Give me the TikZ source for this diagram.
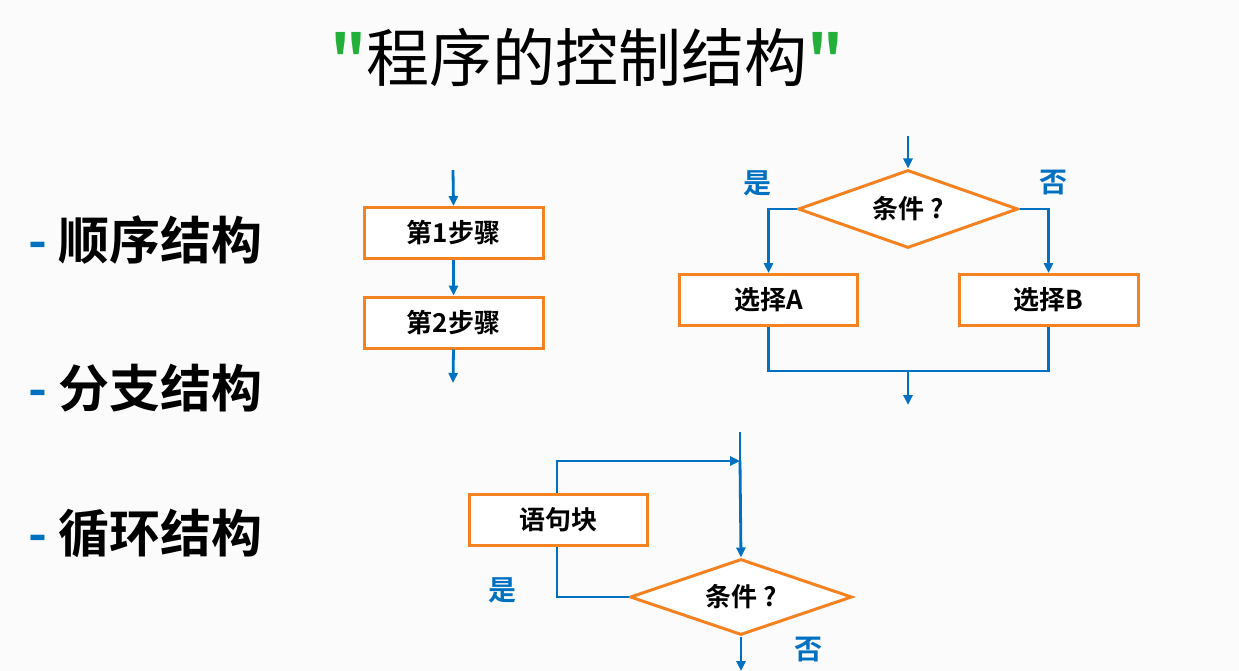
\documentclass[tikz,border=0pt]{standalone}
\usepackage{fontspec}
\setmainfont{Noto Sans CJK SC}
\newfontfamily\cjkb{Noto Sans CJK SC Bold}
\usetikzlibrary{shapes.geometric,arrows.meta}
\definecolor{bl}{HTML}{0070C0}
\definecolor{og}{HTML}{F58220}
\definecolor{gr}{HTML}{22B03A}
\begin{document}
\begin{tikzpicture}[x=1pt,y={(0,-1pt)},
 box/.style={draw=og,line width=3pt,fill=white,minimum width=178pt,minimum height=51pt,font=\cjkb\fontsize{26}{28}\selectfont},
 dia/.style={diamond,draw=og,line width=3pt,fill=white,aspect=2.9,inner sep=0pt,font=\cjkb\fontsize{26}{28}\selectfont},
 ln/.style={draw=bl,line width=2.8pt},
 ar/.style={ln,-{Triangle[length=10pt,width=9pt]}},
 lab/.style={font=\cjkb\fontsize{51}{55}\selectfont,anchor=west},
 yn/.style={text=bl,font=\cjkb\fontsize{28}{30}\selectfont}]
\fill[white!97!gray] (0,0) rectangle (1239,671);
\useasboundingbox (0,0) rectangle (1239,671);
\node (title) at (587,57) {\fontsize{63}{66}\selectfont\textcolor{gr}{\cjkb"}程序的控制结构\textcolor{gr}{\cjkb"}};
\node[lab] (l1) at (25,240) {\textcolor{bl}{-} 顺序结构};
\node[lab] (l2) at (25,388) {\textcolor{bl}{-} 分支结构};
\node[lab] (l3) at (25,533) {\textcolor{bl}{-} 循环结构};
% sequence
\coordinate (s0) at (453,170);
\node[box,minimum width=179pt] (b1) at (453.5,233) {第1步骤};
\node[box,minimum width=179pt] (b2) at (453.5,322.5) {第2步骤};
\coordinate (s3) at (453,383);
\draw[ar] (s0) -- (b1.north);
\draw[ar] (b1.south) -- (b2.north);
\draw[ar] (b2.south) -- (s3);
% branch
\coordinate (t0) at (908,136);
\node[dia,minimum width=220pt,minimum height=78pt] (d1) at (908,209) {条件 ?};
\node[box] (ba) at (768.5,300) {选择A};
\node[box,minimum width=179pt] (bb) at (1048.5,300) {选择B};
\coordinate (m) at (908,371);
\coordinate (t1) at (908,405);
\draw[ar] (t0) -- (d1.north);
\draw[ar] (d1.west) -| (ba.north);
\draw[ar] (d1.east) -| (bb.north);
\draw[ln] (ba.south) |- (m) -| (bb.south);
\draw[ar] (m) -- (t1);
\node[yn] (y1) at (757,183) {是};
\node[yn] (n1) at (1053,183) {否};
% loop
\coordinate (c0) at (740,432);
\coordinate (c1) at (740,461);
\coordinate (c2) at (557,461);
\coordinate (c3) at (557,597);
\coordinate (c4) at (741,671);
\draw[ln] (c0) -- (c1);
\node[dia,minimum width=222pt,minimum height=76pt] (d2) at (741,597) {条件 ?};
\draw[ar] (c1) -- (d2.north);
\draw[ar] (d2.west) -- (c3) -- (c2) -- (c1);
\node[box] (bs) at (558.5,519.5) {语句块};
\draw[ar] (d2.south) -- (c4);
\node[yn] (y2) at (502,590) {是};
\node[yn] (n2) at (808,650) {否};
\end{tikzpicture}
\end{document}
